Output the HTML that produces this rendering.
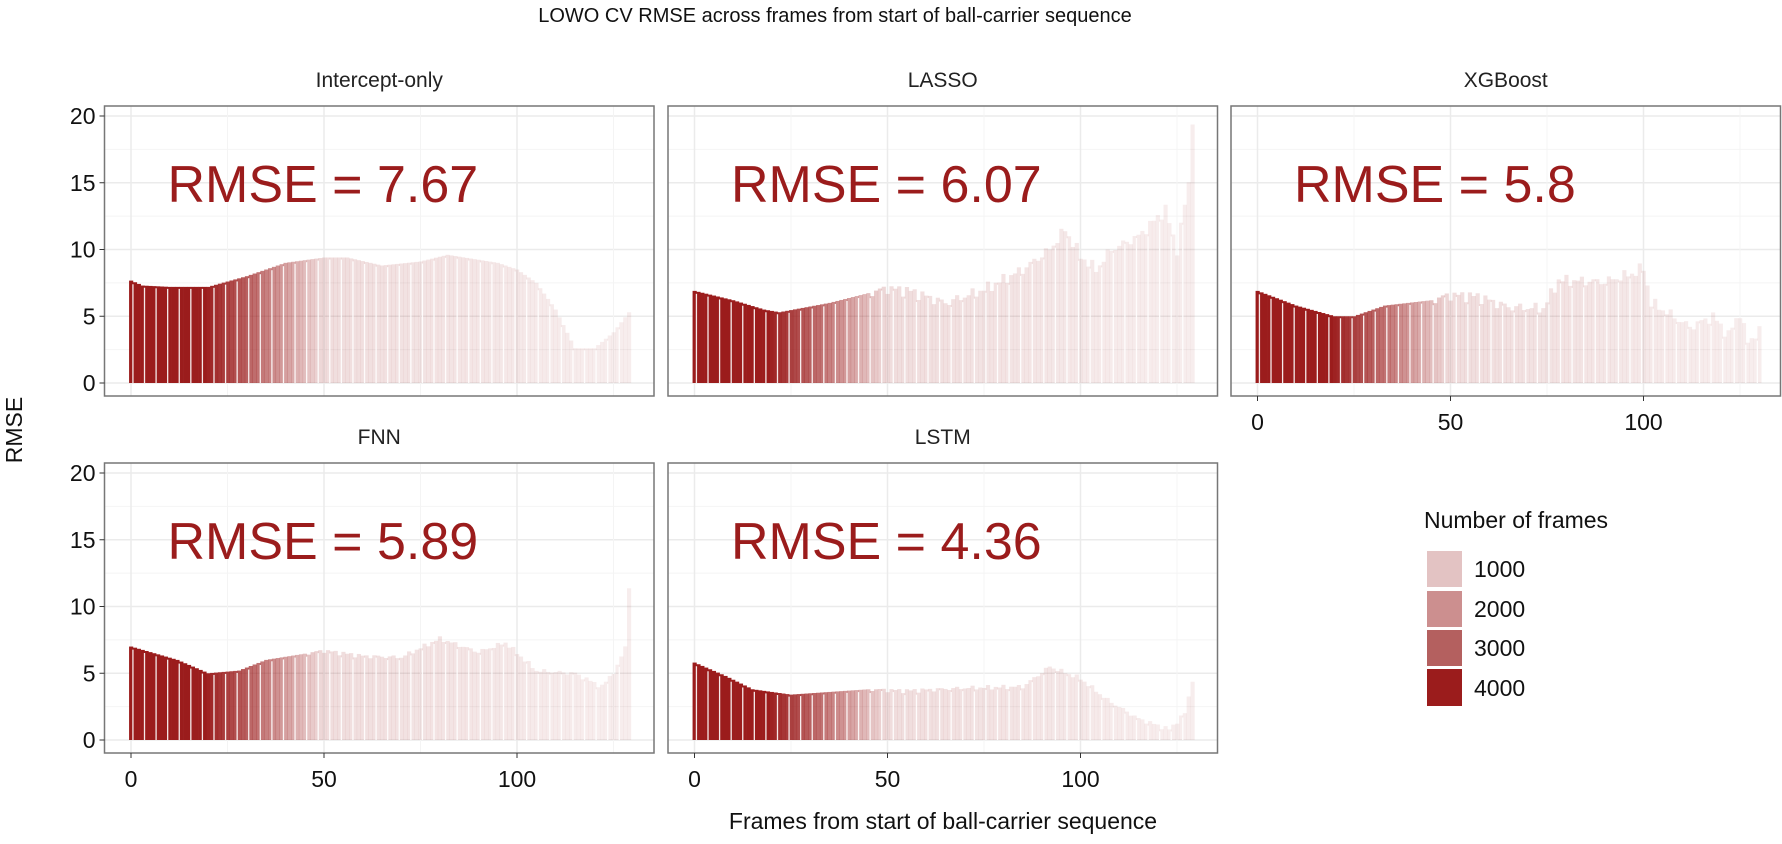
<!DOCTYPE html>
<html><head><meta charset="utf-8"><style>
body{margin:0;background:#fff;}
svg text{font-family:"Liberation Sans",sans-serif;}
</style></head><body>
<svg id="s" width="1782" height="839" xmlns="http://www.w3.org/2000/svg">
<rect width="1782" height="839" fill="#fff"/>
<text x="835" y="22" font-size="20" text-anchor="middle" fill="#111">LOWO CV RMSE across frames from start of ball-carrier sequence</text>
<text x="943" y="829" font-size="23" text-anchor="middle" fill="#111">Frames from start of ball-carrier sequence</text>
<text transform="translate(22,430) rotate(-90)" font-size="23" text-anchor="middle" fill="#111">RMSE</text>
<text x="1424" y="528" font-size="23" fill="#111">Number of frames</text>
<rect x="1427" y="551" width="35" height="36" fill="#e3c3c3"/>
<rect x="1427" y="591" width="35" height="36" fill="#cc8f8f"/>
<rect x="1427" y="630" width="35" height="36" fill="#b4605f"/>
<rect x="1427" y="669" width="35" height="37" fill="#9b1c1c"/>
<text x="1474" y="577" font-size="23" fill="#111">1000</text>
<text x="1474" y="617" font-size="23" fill="#111">2000</text>
<text x="1474" y="656" font-size="23" fill="#111">3000</text>
<text x="1474" y="696" font-size="23" fill="#111">4000</text>
<g id="g"></g>
</svg>
<script>
var g=document.getElementById('g'),h='';
var P=[
{l:104.5,t:106,b:396,name:'Intercept-only',r:'7.67',yl:1,xl:0,d:[[0,7.67],[3,7.3],[10,7.2],[20,7.2],[30,8],[40,9],[50,9.4],[56,9.4],[65,8.8],[75,9.1],[82,9.6],[95,9.0],[100,8.5],[105,7.5],[110,5.5],[115,2.6],[120,2.6],[125,3.8],[129,5.3]],n:0},
{l:668,t:106,b:396,name:'LASSO',r:'6.07',yl:0,xl:0,d:[[0,6.9],[10,6.2],[18,5.5],[22,5.3],[35,6.0],[50,7.1],[56,6.9],[65,6.0],[75,7.0],[85,8.5],[92,10],[96,11.5],[100,9.5],[104,8.5],[108,10],[115,11],[122,13],[125,10],[128,15],[129,19.7]],n:0.5},
{l:1231,t:106,b:396,name:'XGBoost',r:'5.8',yl:0,xl:1,d:[[0,6.9],[10,5.8],[20,5.0],[25,5.0],[33,5.8],[45,6.2],[50,6.6],[57,6.5],[65,5.7],[74,5.6],[78,7.7],[90,7.6],[97,8.2],[100,8.6],[102,6.0],[105,5.5],[112,4.2],[118,5.0],[122,3.6],[125,5.3],[127,3.0],[130,4.0]],n:0.5},
{l:104.5,t:463,b:753,name:'FNN',r:'5.89',yl:1,xl:1,d:[[0,7.0],[12,6.0],[20,5.0],[28,5.2],[35,6.0],[50,6.7],[60,6.3],[70,6.2],[80,7.6],[90,6.6],[97,7.3],[105,5.2],[115,5.0],[122,4.0],[126,5.5],[128,7],[129,11.5]],n:0.2},
{l:668,t:463,b:753,name:'LSTM',r:'4.36',yl:0,xl:1,d:[[0,5.8],[8,4.8],[15,3.8],[25,3.4],[45,3.8],[55,3.7],[70,3.9],[85,4.0],[92,5.5],[100,4.6],[107,3.0],[115,1.6],[123,0.8],[127,2.0],[129,4.5]],n:0.2}
];
function interp(d,f){for(var i=0;i<d.length-1;i++){if(f<=d[i+1][0]){var a=d[i],b=d[i+1];return a[1]+(b[1]-a[1])*(f-a[0])/(b[0]-a[0]);}}return null;}
function alpha(f){if(f<=19)return 1;if(f<=50)return 1-(f-19)/31*0.85;return Math.max(0.08,0.15-(f-50)*0.001);}
P.forEach(function(p){
 var x0=p.l+26.5,w=549.5,sx=3.86,y0=p.b-13,sy=13.35;
 h+='<rect x="'+p.l+'" y="'+p.t+'" width="'+w+'" height="'+(p.b-p.t)+'" fill="#fff"/>';
 for(var v=0;v<=20;v+=2.5){var y=y0-v*sy;h+='<line x1="'+p.l+'" x2="'+(p.l+w)+'" y1="'+y+'" y2="'+y+'" stroke="'+(v%5?'#f4f4f4':'#ebebeb')+'" stroke-width="'+(v%5?1:1.5)+'"/>';}
 for(var f=0;f<=125;f+=25){var x=x0+f*sx;h+='<line y1="'+p.t+'" y2="'+p.b+'" x1="'+x+'" x2="'+x+'" stroke="'+(f%50?'#f4f4f4':'#ebebeb')+'" stroke-width="'+(f%50?1:1.5)+'"/>';}
 var last=p.d[p.d.length-1][0],hs=[];
 for(var f=0;f<=last;f++){var v=interp(p.d,f);if(f>45)v+=p.n*Math.sin(f*2.3)*Math.cos(f*0.7);if(v<0)v=0.2;hs.push(v);
  h+='<rect x="'+(x0+(f-0.5)*sx)+'" y="'+(y0-v*sy)+'" width="'+(sx+0.3)+'" height="'+(v*sy)+'" fill="#9b1c1c" fill-opacity="'+alpha(f)+'"/>';}
 for(var f=1;f<=last;f+=3){var v=Math.min(hs[f],hs[f-1]);var x=x0+(f-0.5)*sx;h+='<line x1="'+x+'" x2="'+x+'" y1="'+(y0-v*sy+2)+'" y2="'+y0+'" stroke="#fff" stroke-width="1.3" stroke-opacity="0.9"/>';}
 h+='<rect x="'+p.l+'" y="'+p.t+'" width="'+w+'" height="'+(p.b-p.t)+'" fill="none" stroke="#777" stroke-width="1.5"/>';
 h+='<text x="'+(p.l+w/2)+'" y="'+(p.t-19)+'" font-size="21" text-anchor="middle" fill="#222">'+p.name+'</text>';
 h+='<text x="'+(p.l+63)+'" y="'+(p.t+96)+'" font-size="52" fill="#9b1c1c">RMSE = '+p.r+'</text>';
 if(p.yl){for(var v=0;v<=20;v+=5){var y=y0-v*sy;h+='<line x1="'+(p.l-5)+'" x2="'+p.l+'" y1="'+y+'" y2="'+y+'" stroke="#333"/><text x="'+(p.l-9)+'" y="'+(y+8)+'" font-size="23" text-anchor="end" fill="#111">'+v+'</text>';}}
 if(p.xl){for(var f=0;f<=100;f+=50){var x=x0+f*sx;h+='<line y1="'+p.b+'" y2="'+(p.b+5)+'" x1="'+x+'" x2="'+x+'" stroke="#333"/><text x="'+x+'" y="'+(p.b+34)+'" font-size="23" text-anchor="middle" fill="#111">'+f+'</text>';}}
});
g.innerHTML=h;
</script>
</body></html>
